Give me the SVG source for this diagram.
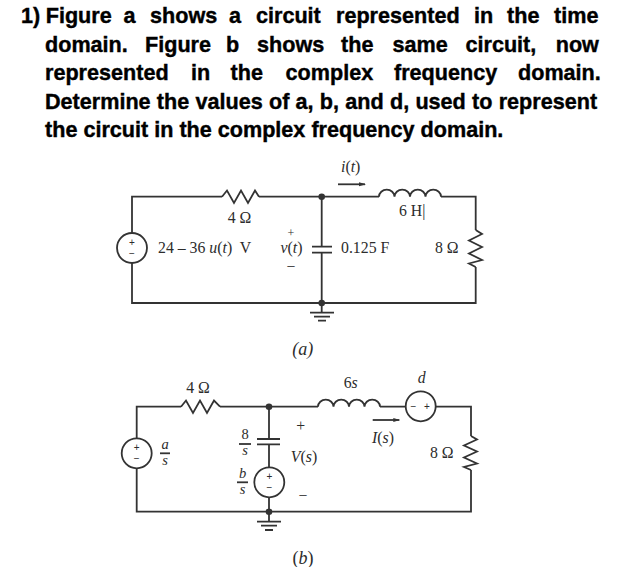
<svg xmlns="http://www.w3.org/2000/svg" width="639" height="567" viewBox="0 0 639 567">
<style>
.q{font:bold 21.6px "Liberation Sans",Arial,sans-serif;fill:#000;stroke:#000;stroke-width:.4}
.t{font-family:"Liberation Serif","Times New Roman",serif;font-size:15.8px;fill:#2c2c2c}
.f{font-family:"Liberation Serif","Times New Roman",serif;font-size:14.5px;fill:#2c2c2c;font-style:italic;text-anchor:middle}
.i{font-style:italic}
.c{text-anchor:middle}
.w{fill:none;stroke:#333;stroke-width:1.8}
.s{fill:#fff;stroke:#333;stroke-width:1.8}
.p{font-family:"Liberation Sans",Arial,sans-serif;font-size:10px;fill:#2c2c2c;text-anchor:middle}
.d{fill:#333}
</style>
<defs>
<marker id="ah" markerWidth="7" markerHeight="5" refX="6" refY="2.5" orient="auto" markerUnits="userSpaceOnUse"><path d="M0 0.5L7 2.5L0 4.500Z" fill="#333"/></marker>
</defs>
<g id="question">
<text class="q" y="23"><tspan x="21">1)</tspan><tspan x="45.700">Figure</tspan><tspan x="123.600">a</tspan><tspan x="150">shows</tspan><tspan x="229">a</tspan><tspan x="256">circuit</tspan><tspan x="336">represented</tspan><tspan x="474">in</tspan><tspan x="507">the</tspan><tspan x="554">time</tspan></text>
<text class="q" y="52"><tspan x="45">domain.</tspan><tspan x="145">Figure</tspan><tspan x="226">b</tspan><tspan x="257">shows</tspan><tspan x="341">the</tspan><tspan x="392.500">same</tspan><tspan x="465.500">circuit,</tspan><tspan x="555.700">now</tspan></text>
<text class="q" y="80"><tspan x="45">represented</tspan><tspan x="191">in</tspan><tspan x="230.500">the</tspan><tspan x="285.600">complex</tspan><tspan x="394">frequency</tspan><tspan x="518">domain.</tspan></text>
<text class="q" y="109" x="45" style="word-spacing:.25px">Determine the values of a, b, and d, used to represent</text>
<text class="q" y="137" x="45">the circuit in the complex frequency domain.</text>
</g>
<g id="connectors">
<path class="w" d="M132 233V196.700H222M259 196.700H379M441 196.700H475.700V230M475.700 267V303H132V263M321.700 196.700V246.700M321.700 252.700V312.700"/>
<path class="w" d="M338 184.300H365" marker-end="url(#ah)"/>
<path class="w" d="M136.700 438V406.700H181M220 406.700H318M380 406.700H405.700M435.700 406.700H471V436M471 470V511.700H136.700V468M269 406.700V439M269 444.300V467M269 497V521.700"/>
<path class="w" d="M372.700 420H399.300" marker-end="url(#ah)"/>
</g>
<g id="a-source"><circle class="s" cx="132" cy="248" r="15"/><text class="p" x="132" y="246">+</text><text class="p" x="132" y="257">−</text><text class="t" x="158" y="253" xml:space="preserve">24 – 36 <tspan class="i">u</tspan>(<tspan class="i">t</tspan>)  V</text></g>
<g id="a-r4"><path class="w" d="M222 196.700L227 190.500L234 203L241 190.500L248 203L255 190.500L259 196.700"/><text class="t c" x="239.500" y="222.700">4 Ω</text></g>
<g id="a-node-top"><circle class="d" cx="321.700" cy="196.700" r="3.300"/></g>
<g id="a-node-bottom"><circle class="d" cx="321.700" cy="303" r="3.300"/></g>
<g id="a-cap"><path class="w" d="M312 246.700H332M312 252.700H332"/><text class="p" x="291" y="237" style="font-family:'Liberation Serif',serif;font-size:12px">+</text><text class="t i c" x="291.500" y="253">v<tspan font-style="normal">(</tspan>t<tspan font-style="normal">)</tspan></text><text class="t c" x="291" y="272">−</text><text class="t" x="341" y="253">0.125 F</text></g>
<g id="a-l"><path class="w" d="M379 196.700a7.750 7 0 0 1 15.500 0a7.750 7 0 0 1 15.500 0a7.750 7 0 0 1 15.500 0a7.750 7 0 0 1 15.500 0"/><text class="t i c" x="350.700" y="171.700">i<tspan font-style="normal">(</tspan>t<tspan font-style="normal">)</tspan></text><text class="t" x="399" y="215.700">6 H|</text></g>
<g id="a-r8"><path class="w" d="M475.700 230L482 234L469 240.500L482 247L469 253.500L482 260L469 263.500L475.700 267"/><text class="t" x="435" y="253">8 Ω</text></g>
<g id="a-ground"><path class="w" d="M310 312.700H334M314 316.700H330M318 320.700H326"/></g>
<text class="t i c" x="302.700" y="355" style="font-size:18px">(a)</text>
<g id="b-source-a"><circle class="s" cx="136.700" cy="453.300" r="15"/><text class="p" x="136.700" y="451">+</text><text class="p" x="136.700" y="462">−</text><text class="f" x="165" y="449">a</text><path class="w" d="M160 453.300H170"/><text class="f" x="165" y="465">s</text></g>
<g id="b-r4"><path class="w" d="M181 406.700L186 400.500L193 413L200 400.500L207 413L214 400.500L220 406.700"/><text class="t c" x="198" y="393">4 Ω</text></g>
<g id="b-node-top"><circle class="d" cx="269" cy="406.700" r="3.300"/></g>
<g id="b-node-bottom"><circle class="d" cx="269" cy="511.700" r="3.300"/></g>
<g id="b-cap"><path class="w" d="M257 439H280M257 444.300H280"/><text class="f" x="245" y="439" style="font-style:normal">8</text><path class="w" d="M239 444H251"/><text class="f" x="245" y="455">s</text></g>
<g id="b-source-b"><circle class="s" cx="269.300" cy="482.300" r="15"/><text class="p" x="269.300" y="480">+</text><text class="p" x="269.300" y="491">−</text><text class="f" x="242.700" y="478">b</text><path class="w" d="M237 482.300H248"/><text class="f" x="242.700" y="494">s</text></g>
<g id="b-v"><text class="t c" x="300.700" y="431">+</text><text class="t c" x="304" y="462"><tspan class="i">V</tspan>(<tspan class="i">s</tspan>)</text><text class="t c" x="303" y="501">−</text></g>
<g id="b-l"><path class="w" d="M318 406.700a7.750 7 0 0 1 15.500 0a7.750 7 0 0 1 15.500 0a7.750 7 0 0 1 15.500 0a7.750 7 0 0 1 15.500 0"/><text class="t c" x="350.700" y="387.700">6<tspan class="i">s</tspan></text><text class="t" x="372" y="443.300"><tspan class="i">I</tspan>(<tspan class="i">s</tspan>)</text></g>
<g id="b-source-d"><circle class="s" cx="420.700" cy="406.300" r="15"/><text class="p" x="413.500" y="410">−</text><text class="p" x="427" y="410">+</text><text class="t i c" x="421.700" y="383">d</text></g>
<g id="b-r8"><path class="w" d="M471 436L477 439.500L464 445.500L477 451.500L464 457.500L477 463.500L464 467L471 470"/><text class="t" x="430" y="458">8 Ω</text></g>
<g id="b-ground"><path class="w" d="M257 521.700H281M261 525.700H277M265 530H273"/></g>
<text class="t c" x="303" y="564.300" style="font-size:18px"><tspan>(</tspan><tspan class="i">b</tspan><tspan>)</tspan></text>
</svg>
